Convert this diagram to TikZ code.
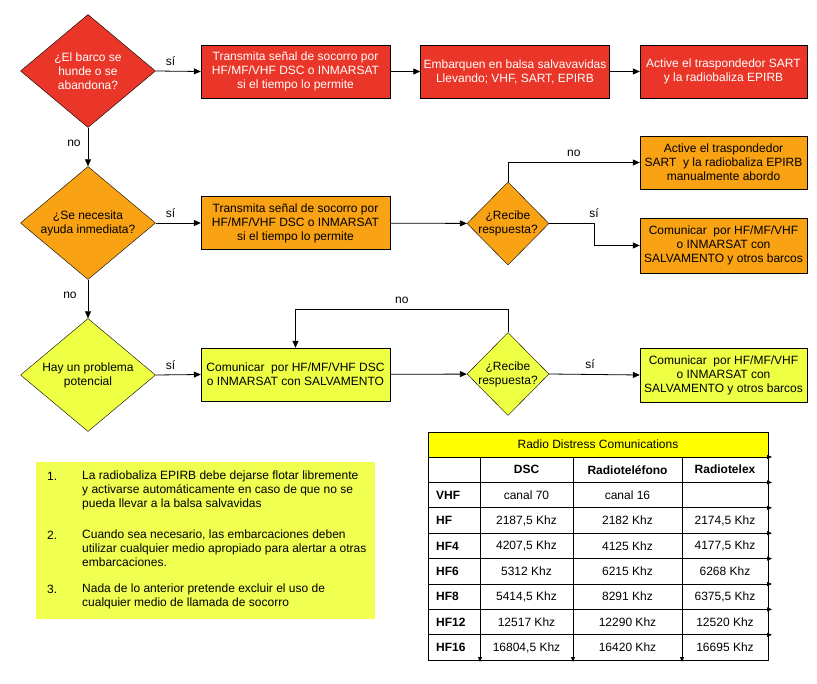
\documentclass[tikz,border=0pt]{standalone}
\usepackage{fontspec}
\setmainfont{Liberation Sans}
\usetikzlibrary{arrows.meta,shapes.geometric}

\definecolor{sinkred}{RGB}{234,54,40}
\definecolor{helporange}{RGB}{248,162,20}
\definecolor{riskyellow}{RGB}{238,255,68}
\definecolor{noteyellow}{RGB}{240,255,80}
\definecolor{titleyellow}{RGB}{255,255,0}

\begin{document}
\begin{tikzpicture}[x=1pt,y=-1pt,>={Triangle[length=7pt,width=6pt]},
        every node/.style={font=\fontsize{12}{14}\selectfont},
        actbox/.style={draw,rectangle,align=center,minimum height=53pt,inner sep=1pt},
        widebox/.style={actbox,minimum width=189pt},
        narrowbox/.style={actbox,minimum width=167pt},
        bigq/.style={draw,diamond,aspect=1.2,inner xsep=-10pt,inner ysep=0pt,align=center,
                     minimum width=135pt,minimum height=113pt},
        smallq/.style={draw,diamond,aspect=1,inner xsep=-10pt,inner ysep=0pt,align=center,
                       minimum width=82pt,minimum height=83pt},
        sinkstep/.style={fill=sinkred,text=white},
        helpstep/.style={fill=helporange},
        riskstep/.style={fill=riskyellow},
        flow/.style={->,line width=0.8pt},
        lbl/.style={inner sep=1pt},
        cell/.style={inner sep=0pt},
        gridline/.style={-{Triangle[length=5pt,width=4pt]},line width=0.8pt}]
        \path[use as bounding box,fill=white] (0,0) rectangle (817,684);

        % first row
        \node[bigq,sinkstep] (sink) at (88,71) {¿El barco se\\hunde o se\\abandona?};
        \node[widebox,sinkstep] (sinksend) at (295.5,71.5) {Transmita señal de socorro por\\HF/MF/VHF DSC o INMARSAT\\si el tiempo lo permite};
        \node[widebox,sinkstep] (raft) at (515,71.5) {Embarquen en balsa salvavavidas\\Llevando; VHF, SART, EPIRB};
        \node[narrowbox,sinkstep] (sart) at (723.5,71.5) {Active el traspondedor SART\\y la radiobaliza EPIRB};

        % second row
        \node[bigq,helpstep] (help) at (88,223) {¿Se necesita\\ayuda inmediata?};
        \node[widebox,helpstep] (helpsend) at (295.5,223) {Transmita señal de socorro por\\HF/MF/VHF DSC o INMARSAT\\si el tiempo lo permite};
        \node[smallq,helpstep] (helpreply) at (508,223.5) {¿Recibe\\respuesta?};
        \node[narrowbox,helpstep] (manual) at (723.5,162.5) {Active el traspondedor\\SART\ \ y la radiobaliza EPIRB\\manualmente abordo};
        \node[narrowbox,helpstep,minimum height=55pt] (helptalk) at (723.5,245.5) {Comunicar\ \ por HF/MF/VHF\\o INMARSAT con\\SALVAMENTO y otros barcos};
        \coordinate (helpbend) at (594,223.5);

        % third row
        \node[bigq,riskstep] (risk) at (88,375) {Hay un problema\\potencial};
        \node[widebox,riskstep] (risksend) at (295.5,374.5) {Comunicar\ \ por HF/MF/VHF DSC\\o INMARSAT con SALVAMENTO};
        \node[smallq,riskstep] (riskreply) at (508,374) {¿Recibe\\respuesta?};
        \node[narrowbox,riskstep,minimum height=54pt] (risktalk) at (723.5,375) {Comunicar\ \ por HF/MF/VHF\\o INMARSAT con\\SALVAMENTO y otros barcos};
        \coordinate (riskbend) at (508,309);

        \draw[flow] (sink.east) -- node[lbl,above=4pt,pos=0.33] (sinkyes) {sí} (sinksend.west);
        \draw[flow] (sinksend) -- (raft);
        \draw[flow] (raft) -- (sart);
        \draw[flow] (sink.south) -- node[lbl,left=6pt,pos=0.4] (sinkno) {no} (help.north);

        \draw[flow] (help.east) -- node[lbl,above=4pt,pos=0.33] (helpyes) {sí} (helpsend.west);
        \draw[flow] (helpsend) -- (helpreply);
        \draw[flow] (helpreply.north) |- node[lbl,above=4pt,pos=0.75] (replyno) {no} (manual.west);
        \draw[flow] (helpreply.east) -- node[lbl,above=4pt,pos=1] (replyyes) {sí} (helpbend) |- (helptalk.west);
        \draw[flow] (help.south) -- node[lbl,left=10pt,pos=0.4] (helpno) {no} (risk.north);

        \draw[flow] (risk.east) -- node[lbl,above=4pt,pos=0.33] (riskyes) {sí} (risksend.west);
        \draw[flow] (risksend) -- (riskreply);
        \draw[flow] (riskreply.north) -- (riskbend) -| node[lbl,above=4pt,pos=0.25] (riskno) {no} (risksend.north);
        \draw[flow] (riskreply.east) -- node[lbl,above=4pt,pos=0.45] (riskok) {sí} (risktalk.west);

        % notes
        \node[fill=noteyellow,minimum width=339pt,minimum height=157pt] (notes) at (205.5,540.5) {};
        \node[cell,anchor=west] (num1) at (47,476) {1.};
        \node[cell,anchor=north west,align=left] (note1) at (82,471) {La radiobaliza EPIRB debe dejarse flotar libremente\\y activarse automáticamente en caso de que no se\\pueda llevar a la balsa salvavidas};
        \node[cell,anchor=west] (num2) at (47,535) {2.};
        \node[cell,anchor=north west,align=left] (note2) at (82,530) {Cuando sea necesario, las embarcaciones deben\\utilizar cualquier medio apropiado para alertar a otras\\embarcaciones.};
        \node[cell,anchor=west] (num3) at (47,589) {3.};
        \node[cell,anchor=north west,align=left] (note3) at (82,584) {Nada de lo anterior pretende excluir el uso de\\cualquier medio de llamada de socorro};

        % table
        \fill[titleyellow] (428,432) rectangle (768,457);
        \node[cell] (title) at (598,444.5) {Radio Distress Comunications};
        \foreach \k in {0,...,7}
            \draw[gridline] (428,457+25.4*\k) -- (772,457+25.4*\k);
        \foreach \x in {480,573,682}
            \draw[gridline] (\x,457) -- (\x,662);
        \draw[line width=0.8pt] (428,432) rectangle (768,660);
        \foreach \k/\band/\dsc/\tel/\telex in {
                0/{}/\textbf{DSC}/\textbf{Radioteléfono}/\textbf{Radiotelex},
                1/VHF/canal 70/canal 16/{},
                2/HF/{2187,5 Khz}/2182 Khz/{2174,5 Khz},
                3/HF4/{4207,5 Khz}/4125 Khz/{4177,5 Khz},
                4/HF6/5312 Khz/6215 Khz/6268 Khz,
                5/HF8/{5414,5 Khz}/8291 Khz/{6375,5 Khz},
                6/HF12/12517 Khz/12290 Khz/12520 Khz,
                7/HF16/{16804,5 Khz}/16420 Khz/16695 Khz}{
            \node[cell,anchor=west,font=\fontsize{12}{14}\selectfont\bfseries] (band\k) at (436,469.7+25.4*\k) {\band};
            \node[cell] (dsc\k) at (526.5,469.7+25.4*\k) {\dsc};
            \node[cell] (tel\k) at (627.5,469.7+25.4*\k) {\tel};
            \node[cell] (telex\k) at (725,469.7+25.4*\k) {\telex};
        }
    \end{tikzpicture}
\end{document}
